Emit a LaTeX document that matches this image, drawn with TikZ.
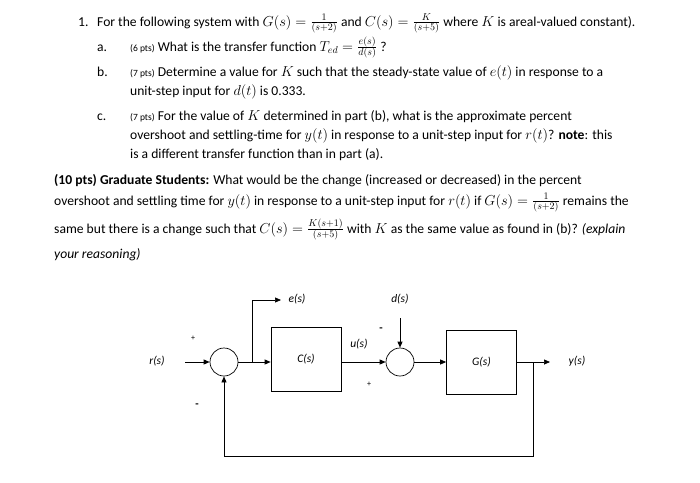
\documentclass[tikz,border=0pt]{standalone}
\usepackage{fontspec}
\usepackage{amsmath}
\setmainfont{Carlito}
\usetikzlibrary{arrows.meta}
\begin{document}
\begin{tikzpicture}[x=1pt,y=-1pt,
  txt/.style={anchor=base west,inner sep=0,font=\fontsize{13.6}{15}\selectfont},
  lab/.style={inner sep=0,font=\itshape\fontsize{11.5}{13}\selectfont},
  blk/.style={draw,line width=0.7pt,minimum width=70pt,minimum height=64pt,font=\itshape\fontsize{11.5}{13}\selectfont},
  sumc/.style={draw,circle,line width=0.7pt,minimum size=28pt,inner sep=0},
  sig/.style={line width=0.7pt,-{Triangle[length=6pt,width=5pt]}},
  wire/.style={line width=0.7pt}]
\useasboundingbox (0,0) rectangle (700,482);
\node[txt] at (78,26) {1.};
\node[txt] at (97,26) {For the following system with $G(s)=\frac{1}{(s+2)}$ and $C(s)=\frac{K}{(s+5)}$ where $K$ is areal-valued constant).};
\node[txt] at (97,51) {a.};
\node[txt] at (130,51) {{\fontsize{9.5}{10}\selectfont(6 pts)} What is the transfer function $T_{ed}=\frac{e(s)}{d(s)}$ ?};
\node[txt] at (97,76) {b.};
\node[txt] at (130,76) {{\fontsize{9.5}{10}\selectfont(7 pts)} Determine a value for $K$ such that the steady-state value of $e(t)$ in response to a};
\node[txt] at (130,95) {unit-step input for $d(t)$ is 0.333.};
\node[txt] at (97,120) {c.};
\node[txt] at (130,120) {{\fontsize{9.5}{10}\selectfont(7 pts)} For the value of $K$ determined in part (b), what is the approximate percent};
\node[txt] at (130,139) {overshoot and settling-time for $y(t)$ in response to a unit-step input for $r(t)$? \textbf{note}: this};
\node[txt] at (130,158) {is a different transfer function than in part (a).};
\node[txt] at (54,184) {\textbf{(10 pts) Graduate Students:} What would be the change (increased or decreased) in the percent};
\node[txt] at (54,205) {overshoot and settling time for $y(t)$ in response to a unit-step input for $r(t)$ if $G(s)=\frac{1}{(s+2)}$ remains the};
\node[txt] at (54,233) {same but there is a change such that $C(s)=\frac{K(s+1)}{(s+5)}$ with $K$ as the same value as found in (b)? \textit{(explain}};
\node[txt] at (54,258) {\textit{your reasoning)}};
% diagram
\node[sumc] (s1) at (224,362) {};
\node[sumc] (s2) at (400,362) {};
\node[blk] (C) at (306,359) {C(s)};
\node[blk] (G) at (481.5,362) {G(s)};
\node[lab] (r) at (157,361) {r(s)};
\node[lab] (e) at (297,299) {e(s)};
\node[lab] (d) at (400,299) {d(s)};
\node[lab] (u) at (359,344) {u(s)};
\node[lab] (y) at (577,361) {y(s)};
\node[inner sep=0,font=\fontsize{8}{10}\selectfont] at (193,338) {+};
\node[inner sep=0,font=\bfseries\fontsize{11}{12}\selectfont] at (197,406) {-};
\node[inner sep=0,font=\bfseries\fontsize{11}{12}\selectfont] at (381,330) {-};
\node[inner sep=0,font=\fontsize{8}{10}\selectfont] at (369,384) {+};
\coordinate (rin) at (185,362);
\coordinate (br) at (252,362);
\coordinate (brt) at (252,300);
\coordinate (eo) at (281,300);
\coordinate (din) at (400,318);
\coordinate (bo) at (533,362);
\coordinate (yo) at (550,362);
\coordinate (bb) at (533,456);
\coordinate (bl) at (224,456);
\draw[sig] (rin) -- (s1.west);
\draw[wire] (s1.east) -- (br);
\draw[sig] (br) -- (C.west |- br);
\draw[sig] (br) -- (brt) -- (eo);
\draw[sig] (C.east |- s2) -- (s2.west);
\draw[sig] (din) -- (s2.north);
\draw[sig] (s2.east) -- (G.west);
\draw[sig] (G.east) -- (yo);
\draw[sig] (bo) -- (bb) -- (bl) -- (s1.south);
\end{tikzpicture}
\end{document}
